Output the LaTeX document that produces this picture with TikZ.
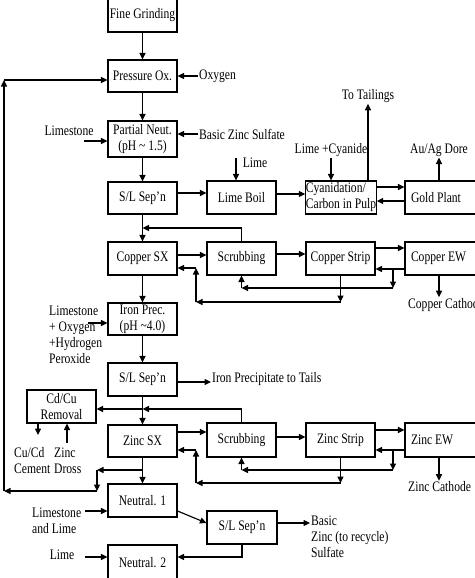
\documentclass[tikz,border=0pt]{standalone}
\usepackage{fontspec}
\setmainfont{Liberation Serif}[FakeStretch=0.8]
\usetikzlibrary{arrows.meta}
\begin{document}
\begin{tikzpicture}[x=1pt,y=-1pt,
  font=\fontsize{14.5}{16}\selectfont,
  box/.style={draw, line width=1.15pt, minimum width=69pt, minimum height=33pt, inner sep=1pt, align=center},
  rbox/.style={box, minimum width=85pt, text width=73pt, inner xsep=6pt, align=flush left},
  lbl/.style={inner sep=1pt},
  arr/.style={line width=1.15pt, -{Triangle[length=6.5pt,width=6pt]}},
  ln/.style={line width=1.15pt}]
\path[use as bounding box, fill=white] (0,0) rectangle (474,578);

% boxes
\node[box, minimum height=34pt] (fine) at (142.5,15) {Fine Grinding};
\node[box, minimum height=32pt] (pox) at (142.5,76) {Pressure Ox.};
\node[box, minimum height=36pt] (pneut) at (142.5,139) {Partial Neut.\\(pH \textasciitilde{} 1.5)};
\node[box, minimum height=32pt] (sl1) at (142.5,198) {S/L Sep’n};
\node[box] (limeboil) at (241.5,197.5) {Lime Boil};
\node[box, minimum width=70pt, inner xsep=0pt, align=left] (cyan) at (341,197.5) {Cyanidation/\\Carbon in Pulp};
\node[rbox] (gold) at (447.5,197.5) {Gold Plant};
\node[box] (cusx) at (142.5,258.5) {Copper SX};
\node[box] (cuscrub) at (241.5,258.5) {Scrubbing};
\node[box] (custrip) at (340.5,258.5) {Copper Strip};
\node[rbox] (cuew) at (447.5,258.5) {Copper EW};
\node[box, minimum height=32pt] (iron) at (142.5,319) {Iron Prec.\\(pH \textasciitilde4.0)};
\node[box] (sl2) at (142.5,379.5) {S/L Sep’n};
\node[box] (cdcu) at (61.5,406.5) {Cd/Cu\\Removal};
\node[box, minimum height=32pt] (znsx) at (142.5,441) {Zinc SX};
\node[box, minimum height=34pt] (znscrub) at (241.5,440) {Scrubbing};
\node[box, minimum height=34pt] (znstrip) at (340.5,440) {Zinc Strip};
\node[rbox, minimum height=34pt] (znew) at (447.5,440) {Zinc EW};
\node[box] (neu1) at (142.5,500.5) {Neutral. 1};
\node[box, minimum width=70pt] (sl3) at (242,527.5) {S/L Sep’n};
\node[box, minimum height=36pt] (neu2) at (142.5,563) {Neutral. 2};

% labels
\node[lbl, anchor=west] (oxy) at (198,76) {Oxygen};
\node[lbl, anchor=west] (bzs) at (198,134) {Basic Zinc Sulfate};
\node[lbl] (ls1) at (69,131) {Limestone};
\coordinate (ls1a) at (84,141);
\node[lbl] (lime1) at (255,163) {Lime};
\coordinate (lime1a) at (236,158);
\node[lbl] (lc) at (331,150) {Lime +Cyanide};
\node[lbl] (tt) at (368,96) {To Tailings};
\node[lbl] (ad) at (439,150) {Au/Ag Dore};
\node[lbl, anchor=west] (cucat) at (407,305) {Copper Cathode};
\node[lbl, anchor=west, align=left] (lsox) at (48,335) {Limestone\\+ Oxygen\\+Hydrogen\\Peroxide};
\coordinate (lsoxa) at (88,323);
\node[lbl, anchor=west] (ipt) at (211,379) {Iron Precipitate to Tails};
\node[lbl, align=left, anchor=west] (cucd) at (13,461) {Cu/Cd\\Cement};
\node[lbl, align=left, anchor=west] (zd) at (53,461) {Zinc\\Dross};
\coordinate (cdA) at (38,435);
\coordinate (zdA) at (67,443);
\node[lbl, anchor=west] (zncat) at (407,487) {Zinc Cathode};
\node[lbl, align=left, anchor=west] (lsl) at (31,521) {Limestone\\and Lime};
\coordinate (lsla) at (85,511);
\node[lbl, align=left, anchor=west] (bz) at (310,537) {Basic\\Zinc (to recycle)\\Sulfate};
\node[lbl] (lime2) at (62,555) {Lime};
\coordinate (lime2a) at (85,557);

% helper coordinates
\coordinate (cub1) at (393,269);
\coordinate (cub2) at (393,288);
\coordinate (cua) at (196,302);
\coordinate (cub) at (196,268);
\coordinate (zb1) at (393,450);
\coordinate (zb2) at (393,470);
\coordinate (za) at (196,483);
\coordinate (zb) at (196,450);
\coordinate (lb1) at (97,470);
\coordinate (lb2) at (97,491);
\coordinate (lb3) at (4,491);
\coordinate (lb4) at (4,80);

% main column
\draw[arr] (fine) -- (pox);
\draw[arr] (pox) -- (pneut);
\draw[arr] (pneut) -- (sl1);
\draw[arr] (sl1) -- (cusx);
\draw[arr] (cusx) -- (iron);
\draw[arr] (iron) -- (sl2);
\draw[arr] (sl2) -- (znsx);
\draw[arr] (znsx) -- (neu1);

% inputs
\draw[arr] (oxy.west) -- (oxy.west -| pox.east);
\draw[arr] (bzs.west) -- (bzs.west -| pneut.east);
\draw[arr] (ls1a) -- (ls1a -| pneut.west);
\draw[arr] (lime1a) -- (lime1a |- limeboil.north);
\draw[arr] (lc.south) -- (lc.south |- cyan.north);
\draw[arr] (tt.south |- cyan.north) -- (tt.south);
\draw[arr] (ad.south |- gold.north) -- (ad.south);
\draw[arr] (lsoxa) -- (lsoxa -| iron.west);
\draw[arr] (sl2.east |- 0,382) -- (ipt.west |- 0,382);
\draw[arr] (lsla) -- (lsla -| neu1.west);
\draw[arr] (lime2a) -- (lime2a -| neu2.west);

% gold circuit
\draw[arr] (sl1.east |- 0,193) -- (limeboil.west |- 0,193);
\draw[arr] (limeboil.east |- 0,194) -- (cyan.west |- 0,194);
\draw[arr] (cyan.east |- 0,187) -- (gold.west |- 0,187);
\draw[arr] (gold.west |- 0,201) -- (cyan.east |- 0,201);

% copper circuit
\draw[arr] (cuscrub.north) -- (cuscrub.north |- 0,228) -- (sl1.south |- 0,228);
\draw[arr] (cusx.east |- 0,255) -- (cuscrub.west |- 0,255);
\draw[arr] (cuscrub.east |- 0,254) -- (custrip.west |- 0,254);
\draw[arr] (custrip.east |- 0,248) -- (cuew.west |- 0,248);
\draw[arr] (cuew.west |- 0,269) -- (custrip.east |- 0,269);
\draw[arr] (cub1) -- (cub2);
\draw[arr] (cub2) -- (cub2 -| cuscrub.south);
\draw[arr] (cuscrub.south |- cub2) -- (cuscrub.south);
\draw[arr] (custrip.south) -- (custrip.south |- cua);
\draw[arr] (custrip.south |- cua) -- (cua);
\draw[arr] (cua) -- (cub);
\draw[arr] (cub) -- (cub -| cusx.east);
\draw[arr] (cuew.south -| 439,0) -- (cucat.north -| 439,0);

% zinc circuit
\draw[arr] (znscrub.north) -- (znscrub.north |- 0,409) -- (sl2.south |- 0,409);
\draw[arr] (sl2.south |- 0,409) -- (cdcu.east |- 0,409);
\draw[arr] (cdA |- cdcu.south) -- (cdA);
\draw[arr] (zdA) -- (zdA |- cdcu.south);
\draw[arr] (znsx.east |- 0,432) -- (znscrub.west |- 0,432);
\draw[arr] (znscrub.east |- 0,437) -- (znstrip.west |- 0,437);
\draw[arr] (znstrip.east |- 0,430) -- (znew.west |- 0,430);
\draw[arr] (znew.west |- 0,450) -- (znstrip.east |- 0,450);
\draw[arr] (zb1) -- (zb2);
\draw[arr] (zb2) -- (zb2 -| znscrub.south);
\draw[arr] (znscrub.south |- zb2) -- (znscrub.south);
\draw[arr] (znstrip.south) -- (znstrip.south |- za);
\draw[arr] (znstrip.south |- za) -- (za);
\draw[arr] (za) -- (zb);
\draw[arr] (zb) -- (zb -| znsx.east);
\draw[arr] (znew.south -| 439,0) -- (zncat.north -| 439,0);

% bleed / recycle to pressure oxidation
\draw[arr] (znsx.south |- lb1) -- (lb1);
\draw[arr] (lb1) -- (lb2);
\draw[arr] (lb2) -- (lb3);
\draw[arr] (lb3) -- (lb4);
\draw[arr] (lb4) -- (lb4 -| pox.west);

% neutralisation
\draw[arr] (neu1.east |- 0,511) -- (sl3.west |- 0,523);
\draw[arr] (sl3.east |- 0,523) -- (bz.west |- 0,523);
\draw[arr] (sl3.south) -- (sl3.south |- 0,557) -- (neu2.east |- 0,557);
\end{tikzpicture}
\end{document}
